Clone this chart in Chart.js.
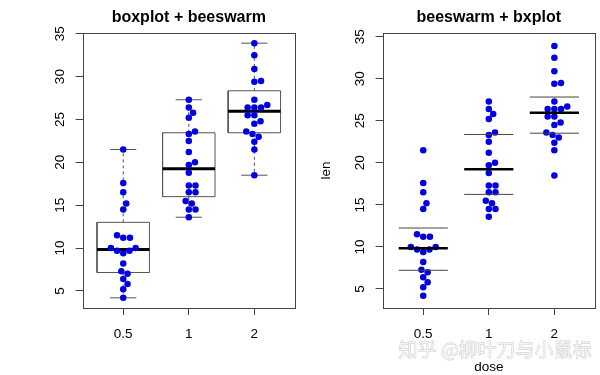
<!DOCTYPE html>
<html>
<head>
<meta charset="utf-8">
<script src="https://cdn.jsdelivr.net/npm/chart.js@4.4.1/dist/chart.umd.min.js"></script>
<style>
  html, body { margin: 0; padding: 0; background: #fff; }
  #wrap { display: flex; width: 600px; height: 375px; }
  canvas { display: block; }
</style>
</head>
<body>
<div id="wrap">
  <canvas id="left" width="300" height="375"></canvas>
  <canvas id="right" width="300" height="375"></canvas>
</div>
<script>
// ToothGrowth len, by dose
var doseLabels = ['0.5', '1', '2'];
var len05 = [4.2, 11.5, 7.3, 5.8, 6.4, 10, 11.2, 11.2, 5.2, 7, 15.2, 21.5, 17.6, 9.7, 14.5, 10, 8.2, 9.4, 16.5, 9.7];
var len1 = [16.5, 16.5, 15.2, 17.3, 22.5, 17.3, 13.6, 14.5, 18.8, 15.5, 19.7, 23.3, 23.6, 26.4, 20, 25.2, 25.8, 21.2, 14.5, 27.3];
var len2 = [23.6, 18.5, 33.9, 25.5, 26.4, 32.5, 26.7, 21.5, 23.3, 29.5, 25.5, 26.4, 22.4, 24.5, 24.8, 30.9, 26.4, 27.3, 29.4, 23];
var yTicks = [5, 10, 15, 20, 25, 30, 35];
var groups = [len05, len1, len2];

Chart.defaults.font.family = '"Liberation Sans", Arial, Helvetica, sans-serif';
Chart.defaults.color = '#000';

var lineCol = '#444';
var dotCol = '#0000e0';
var swarmSize = 6.7;  // px between point centres

function sorted(a) { return a.slice().sort(function (p, q) { return p - q; }); }

function fivenum(a) {
    var s = sorted(a), n = s.length;
    var n4 = Math.floor((n + 3) / 2) / 2;
    return [1, n4, (n + 1) / 2, n + 1 - n4, n].map(function (d) {
        return 0.5 * (s[Math.floor(d) - 1] + s[Math.ceil(d) - 1]);
    });
}

function quantile(a, p) {
    var s = sorted(a), h = (s.length - 1) * p, lo = Math.floor(h);
    var hi = Math.min(lo + 1, s.length - 1);
    return s[lo] + (h - lo) * (s[hi] - s[lo]);
}

function boxStats(a) {
    var f = fivenum(a), iqr = f[3] - f[1];
    var inside = a.filter(function (v) { return v >= f[1] - 1.5 * iqr && v <= f[3] + 1.5 * iqr; });
    return { lo: Math.min.apply(null, inside), q1: f[1], med: f[2], q3: f[3], hi: Math.max.apply(null, inside) };
}

// beeswarm "swarm" placement, ascending priority, in pixel units
function swarmOffsets(vals, pxPerUnit) {
    var order = vals.map(function (v, i) { return i; }).sort(function (a, b) { return vals[a] - vals[b]; });
    var placed = [], out = [];
    order.forEach(function (i) {
        var y = vals[i] * pxPerUnit / swarmSize;
        var near = placed.filter(function (p) { return Math.abs(p.y - y) < 1; });
        var best = 0;
        if (near.length) {
            var cand = [0];
            near.forEach(function (p) { cand.push(p.x + Math.sqrt(1 - (y - p.y) * (y - p.y))); });
            near.forEach(function (p) { cand.push(p.x - Math.sqrt(1 - (y - p.y) * (y - p.y))); });
            var bestAbs = Infinity;
            cand.forEach(function (c) {
                var bad = near.some(function (p) { return (c - p.x) * (c - p.x) + (y - p.y) * (y - p.y) < 0.999; });
                if (!bad && Math.abs(c) < bestAbs) { bestAbs = Math.abs(c); best = c; }
            });
        }
        placed.push({ y: y, x: best });
        out[i] = best * swarmSize;
    });
    return out;
}

function seg(list, x0, x1, y0, y1) {
    list.push({ x: x0, y: y0 }, { x: x1, y: y1 }, { x: x1, y: null });
}

function lineDs(data, width, color, dash, order) {
    return {
        type: 'scatter', data: data, showLine: true, borderColor: color, borderWidth: width,
        borderDash: dash || [], pointRadius: 0, pointHoverRadius: 0, pointHitRadius: 0,
        spanGaps: false, order: order, borderCapStyle: 'butt'
    };
}

function pointsDs(order) {
    var data = [];
    groups.forEach(function (g, gi) {
        g.forEach(function (v) { data.push({ x: gi + 1, y: v }); });
    });
    return {
        type: 'scatter', data: data, backgroundColor: dotCol, borderWidth: 0,
        pointRadius: 3.25, pointHoverRadius: 3.25, order: order
    };
}

var framePlugin = {
    id: 'frame',
    beforeDatasetsDraw: function (chart) {
        var a = chart.chartArea, ctx = chart.ctx;
        ctx.save();
        ctx.strokeStyle = lineCol;
        ctx.lineWidth = 1;
        ctx.strokeRect(Math.round(a.left) + 0.5, Math.round(a.top) + 0.5,
            Math.round(a.right - a.left), Math.round(a.bottom - a.top));
        ctx.restore();
    }
};

function makeOptions(title, yMin, yMax, axisTitles) {
    return {
        responsive: false,
        animation: false,
        events: [],
        layout: { padding: { left: 0, right: 5, top: 0, bottom: 0 } },
        plugins: {
            legend: { display: false },
            tooltip: { enabled: false },
            title: {
                display: true, text: title, color: '#000', fullSize: false,
                font: { size: 16, weight: 'bold', lineHeight: 1.2 },
                padding: { top: 8, bottom: 5.8 }
            }
        },
        scales: {
            x: {
                type: 'linear', min: 0.38, max: 3.62,
                afterBuildTicks: function (s) { s.ticks = [1, 2, 3].map(function (v) { return { value: v }; }); },
                afterFit: function (s) { s.height = 67; },
                ticks: {
                    padding: 11, font: { size: 13.5 }, color: '#000', autoSkip: false,
                    callback: function (v) { return doseLabels[v - 1]; }
                },
                grid: { drawOnChartArea: false, drawTicks: true, tickLength: 7, tickColor: lineCol },
                border: { display: false },
                title: { display: axisTitles, text: 'dose', font: { size: 13.5 }, padding: { top: 0, bottom: 0 } }
            },
            y: {
                type: 'linear', min: yMin, max: yMax,
                afterBuildTicks: function (s) { s.ticks = yTicks.map(function (v) { return { value: v }; }); },
                afterFit: function (s) { s.width = 82.6; },
                ticks: {
                    padding: 8, font: { size: 13.5 }, color: '#000', minRotation: 90, maxRotation: 90,
                    crossAlign: 'center', autoSkip: false
                },
                grid: { drawOnChartArea: false, drawTicks: true, tickLength: 7, tickColor: lineCol },
                border: { display: false },
                title: { display: axisTitles, text: 'len', font: { size: 13.5 }, padding: { top: 18.6, bottom: 0 } }
            }
        }
    };
}

function applySwarm(chart, dsIndex) {
    var xs = chart.scales.x, ys = chart.scales.y;
    var xPx = xs.getPixelForValue(2) - xs.getPixelForValue(1);
    var yPx = ys.getPixelForValue(0) - ys.getPixelForValue(1);
    var data = [];
    groups.forEach(function (g, gi) {
        var off = swarmOffsets(g, yPx);
        g.forEach(function (v, i) { data.push({ x: gi + 1 + off[i] / xPx, y: v }); });
    });
    chart.data.datasets[dsIndex].data = data;
    chart.update('none');
}

// left: boxplot, then beeswarm on top
var boxLines = [], whiskers = [], staples = [], medians = [];
groups.forEach(function (g, gi) {
    var b = boxStats(g), x = gi + 1;
    boxLines.push({ x: x - 0.4, y: b.q1 }, { x: x + 0.4, y: b.q1 }, { x: x + 0.4, y: b.q3 },
        { x: x - 0.4, y: b.q3 }, { x: x - 0.4, y: b.q1 }, { x: x, y: null });
    seg(whiskers, x, x, b.q3, b.hi);
    seg(whiskers, x, x, b.q1, b.lo);
    seg(staples, x - 0.2, x + 0.2, b.hi, b.hi);
    seg(staples, x - 0.2, x + 0.2, b.lo, b.lo);
    seg(medians, x - 0.4, x + 0.4, b.med, b.med);
});

var leftChart = new Chart(document.getElementById('left'), {
    type: 'scatter',
    data: {
        datasets: [
            lineDs(whiskers, 1, '#555', [3, 3], 5),
            lineDs(staples, 1, '#555', null, 4),
            lineDs(boxLines, 1, '#555', null, 3),
            lineDs(medians, 3, '#000', null, 2),
            pointsDs(1)
        ]
    },
    options: makeOptions('boxplot + beeswarm', 3.012, 35.088, false),
    plugins: [framePlugin]
});
applySwarm(leftChart, 4);

// right: beeswarm, then bxplot lines on top
var quartLines = [], medLines = [];
groups.forEach(function (g, gi) {
    var x = gi + 1;
    seg(quartLines, x - 0.375, x + 0.375, quantile(g, 0.25), quantile(g, 0.25));
    seg(quartLines, x - 0.375, x + 0.375, quantile(g, 0.75), quantile(g, 0.75));
    seg(medLines, x - 0.375, x + 0.375, quantile(g, 0.5), quantile(g, 0.5));
});

var watermark = {
    id: 'watermark',
    afterDraw: function (chart) {
        var ctx = chart.ctx;
        ctx.save();
        ctx.font = '19px "Noto Sans CJK SC", sans-serif';
        ctx.textAlign = 'center';
        ctx.textBaseline = 'middle';
        ctx.lineWidth = 0.8;
        ctx.strokeStyle = '#c8c8c8';
        ctx.strokeText('知乎 @柳叶刀与小鼠标', 195, 350);
        ctx.fillStyle = '#f3f3f3';
        ctx.fillText('知乎 @柳叶刀与小鼠标', 195, 350);
        ctx.restore();
    }
};

var rightChart = new Chart(document.getElementById('right'), {
    type: 'scatter',
    data: {
        datasets: [
            pointsDs(3),
            lineDs(quartLines, 1, lineCol, null, 2),
            lineDs(medLines, 2.5, '#000', null, 1)
        ]
    },
    options: makeOptions('beeswarm + bxplot', 2.74, 35.44, true),
    plugins: [framePlugin, watermark]
});
applySwarm(rightChart, 0);
</script>
</body>
</html>
